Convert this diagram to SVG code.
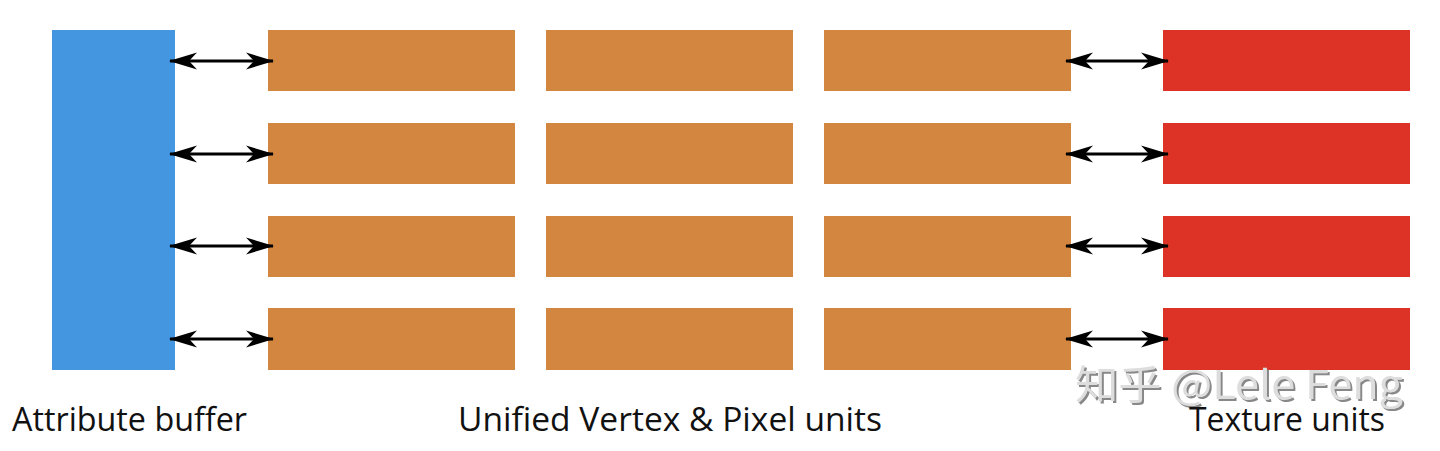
<svg xmlns="http://www.w3.org/2000/svg" width="1440" height="451" viewBox="0 0 1440 451">
<style>
.attr{fill:#4596e1}
.unit{fill:#d38640}
.tex{fill:#dc3326}
.lbl{font-family:"Open Sans","Noto Sans",sans-serif;font-size:33px;fill:#111}
.conn{stroke:#000;stroke-width:3;fill:none;marker-start:url(#ah);marker-end:url(#ah)}
.wm{font-family:"Noto Sans CJK SC","Noto Sans",sans-serif;font-size:40px;fill:#ddd;filter:url(#sh)}
</style>
<defs>
<marker id="ah" viewBox="0 0 28 18" refX="27" refY="9" markerWidth="28" markerHeight="18" markerUnits="userSpaceOnUse" orient="auto-start-reverse">
<path d="M0,0.5 L28,9 L0,17.5 L8,9 Z" fill="#000"/>
</marker>
<filter id="sh" x="-5%" y="-20%" width="110%" height="140%">
<feDropShadow dx="2" dy="2" stdDeviation="0.6" flood-color="#888"/>
</filter>
</defs>
<rect width="1440" height="451" fill="#fff"/>
<g id="attribute-buffer"><rect class="attr" x="52" y="30" width="123" height="340"/></g>
<g id="unit-r1c1"><rect class="unit" x="268" y="30" width="247" height="61"/></g>
<g id="unit-r1c2"><rect class="unit" x="546" y="30" width="247" height="61"/></g>
<g id="unit-r1c3"><rect class="unit" x="824" y="30" width="247" height="61"/></g>
<g id="unit-r2c1"><rect class="unit" x="268" y="123" width="247" height="61"/></g>
<g id="unit-r2c2"><rect class="unit" x="546" y="123" width="247" height="61"/></g>
<g id="unit-r2c3"><rect class="unit" x="824" y="123" width="247" height="61"/></g>
<g id="unit-r3c1"><rect class="unit" x="268" y="216" width="247" height="61"/></g>
<g id="unit-r3c2"><rect class="unit" x="546" y="216" width="247" height="61"/></g>
<g id="unit-r3c3"><rect class="unit" x="824" y="216" width="247" height="61"/></g>
<g id="unit-r4c1"><rect class="unit" x="268" y="308" width="247" height="62"/></g>
<g id="unit-r4c2"><rect class="unit" x="546" y="308" width="247" height="62"/></g>
<g id="unit-r4c3"><rect class="unit" x="824" y="308" width="247" height="62"/></g>
<g id="tex-1"><rect class="tex" x="1163" y="30" width="247" height="61"/></g>
<g id="tex-2"><rect class="tex" x="1163" y="123" width="247" height="61"/></g>
<g id="tex-3"><rect class="tex" x="1163" y="216" width="247" height="61"/></g>
<g id="tex-4"><rect class="tex" x="1163" y="308" width="247" height="62"/></g>
<g id="connectors">
<line class="conn" x1="170" y1="61" x2="273" y2="61"/>
<line class="conn" x1="170" y1="154" x2="273" y2="154"/>
<line class="conn" x1="170" y1="246" x2="273" y2="246"/>
<line class="conn" x1="170" y1="339" x2="273" y2="339"/>
<line class="conn" x1="1066" y1="61" x2="1168" y2="61"/>
<line class="conn" x1="1066" y1="154" x2="1168" y2="154"/>
<line class="conn" x1="1066" y1="246" x2="1168" y2="246"/>
<line class="conn" x1="1066" y1="339" x2="1168" y2="339"/>
</g>
<g id="watermark">
<text class="wm" x="1075" y="399" textLength="328" lengthAdjust="spacingAndGlyphs">知乎 @Lele Feng</text>
</g>
<g id="labels">
<text class="lbl" x="12" y="431" textLength="235" lengthAdjust="spacingAndGlyphs">Attribute buffer</text>
<text class="lbl" x="458" y="431" textLength="424" lengthAdjust="spacingAndGlyphs">Unified Vertex &amp; Pixel units</text>
<text class="lbl" x="1189" y="431" textLength="196" lengthAdjust="spacingAndGlyphs">Texture units</text>
</g>
</svg>
